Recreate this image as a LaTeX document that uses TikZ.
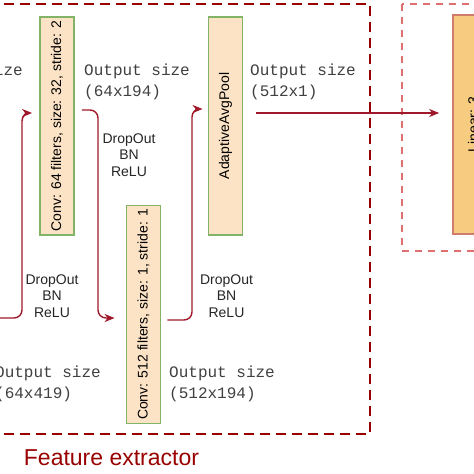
\documentclass[tikz,border=0pt]{standalone}
\usepackage{fontspec}
\setmainfont{Liberation Sans}
\setmonofont{Liberation Mono}
\usetikzlibrary{arrows.meta,calc}
\definecolor{fxred}{HTML}{990000}
\definecolor{clred}{HTML}{E07070}
\definecolor{arrred}{HTML}{A0192A}
\definecolor{convfill}{HTML}{FCE3C6}
\definecolor{convline}{HTML}{82B366}
\definecolor{linfill}{HTML}{F7CB80}
\definecolor{linline}{HTML}{D07C6A}
\tikzset{
  convbox/.style={draw=convline, line width=1.8pt, fill=convfill, minimum width=34pt, minimum height=218pt, inner sep=0pt,
    font=\fontsize{14}{16}\selectfont},
  linbox/.style={draw=linline, line width=1.6pt, fill=linfill, minimum width=40pt, minimum height=219pt, inner sep=0pt,
    font=\fontsize{14}{16}\selectfont},
  outsize/.style={font=\ttfamily\fontsize{16}{20.5}\selectfont, align=left, anchor=north west, inner sep=0pt, text=black!75},
  actlabel/.style={font=\fontsize{14}{16.5}\selectfont, align=center, inner sep=0pt, text=black!85},
  arr/.style={draw=arrred, line width=1.4pt, rounded corners=8pt, -{Stealth[length=10pt,width=8pt,inset=3pt]}},
  fxbox/.style={draw=fxred, line width=2.4pt, dash pattern=on 10pt off 6pt},
  clbox/.style={draw=clred, line width=1.8pt, dash pattern=on 7pt off 6pt},
}
\begin{document}
\begin{tikzpicture}[x=1pt,y=-1pt]
\useasboundingbox (0,0) rectangle (474,474);
\clip (0,0) rectangle (474,474);
\fill[white] (0,0) rectangle (474,474);
% dashed group boxes
\draw[fxbox] (-30,4) rectangle (370,434);
\draw[clbox] (402,4) rectangle (520,251);
% layer boxes
\node[convbox] (conv1) at (57,126) {\rotatebox{90}{Conv: 64 filters, size: 32, stride: 2}};
\node[convbox] (conv2) at (143.5,314.5) {\rotatebox{90}{Conv: 512 filters, size: 1, stride: 1}};
\node[convbox] (pool) at (225.5,126) {\rotatebox{90}{AdaptiveAvgPool}};
\node[linbox] (lin) at (473,124.5) {\rotatebox{90}{Linear: 3}};
% output size labels
\node[outsize] (o0) at (-83,64) {Output size};
\node[outsize] (o1) at (84,64) {Output size\\(64x194)};
\node[outsize] (o2) at (-5,366) {Output size\\(64x419)};
\node[outsize] (o3) at (169,366) {Output size\\(512x194)};
\node[outsize] (o4) at (250,64) {Output size\\(512x1)};
% activation labels
\node[actlabel] (d1) at (129,155) {DropOut\\BN\\ReLU};
\node[actlabel] (d2) at (52,296) {DropOut\\BN\\ReLU};
\node[actlabel] (d3) at (226.5,296) {DropOut\\BN\\ReLU};
% title
\node[text=fxred, font=\fontsize{23}{26}\selectfont, inner sep=0pt] (title) at (111.5,458) {Feature extractor};
% connectors
\coordinate (s0) at (-5,318);
\draw[arr] (s0) -- (22,318) |- ([xshift=-7pt]conv1.west |- 0,113);
\draw[arr] ([xshift=7pt]conv1.east |- 0,110) -- (98,110) |- ([xshift=-11pt]conv2.west |- 0,318);
\draw[arr] ([xshift=6pt]conv2.east |- 0,320) -- (192,320) |- ([xshift=-5pt]pool.west |- 0,109);
\draw[arr] ([xshift=13pt]pool.east |- 0,113) -- ([xshift=-13pt]lin.west |- 0,113);
\end{tikzpicture}
\end{document}
